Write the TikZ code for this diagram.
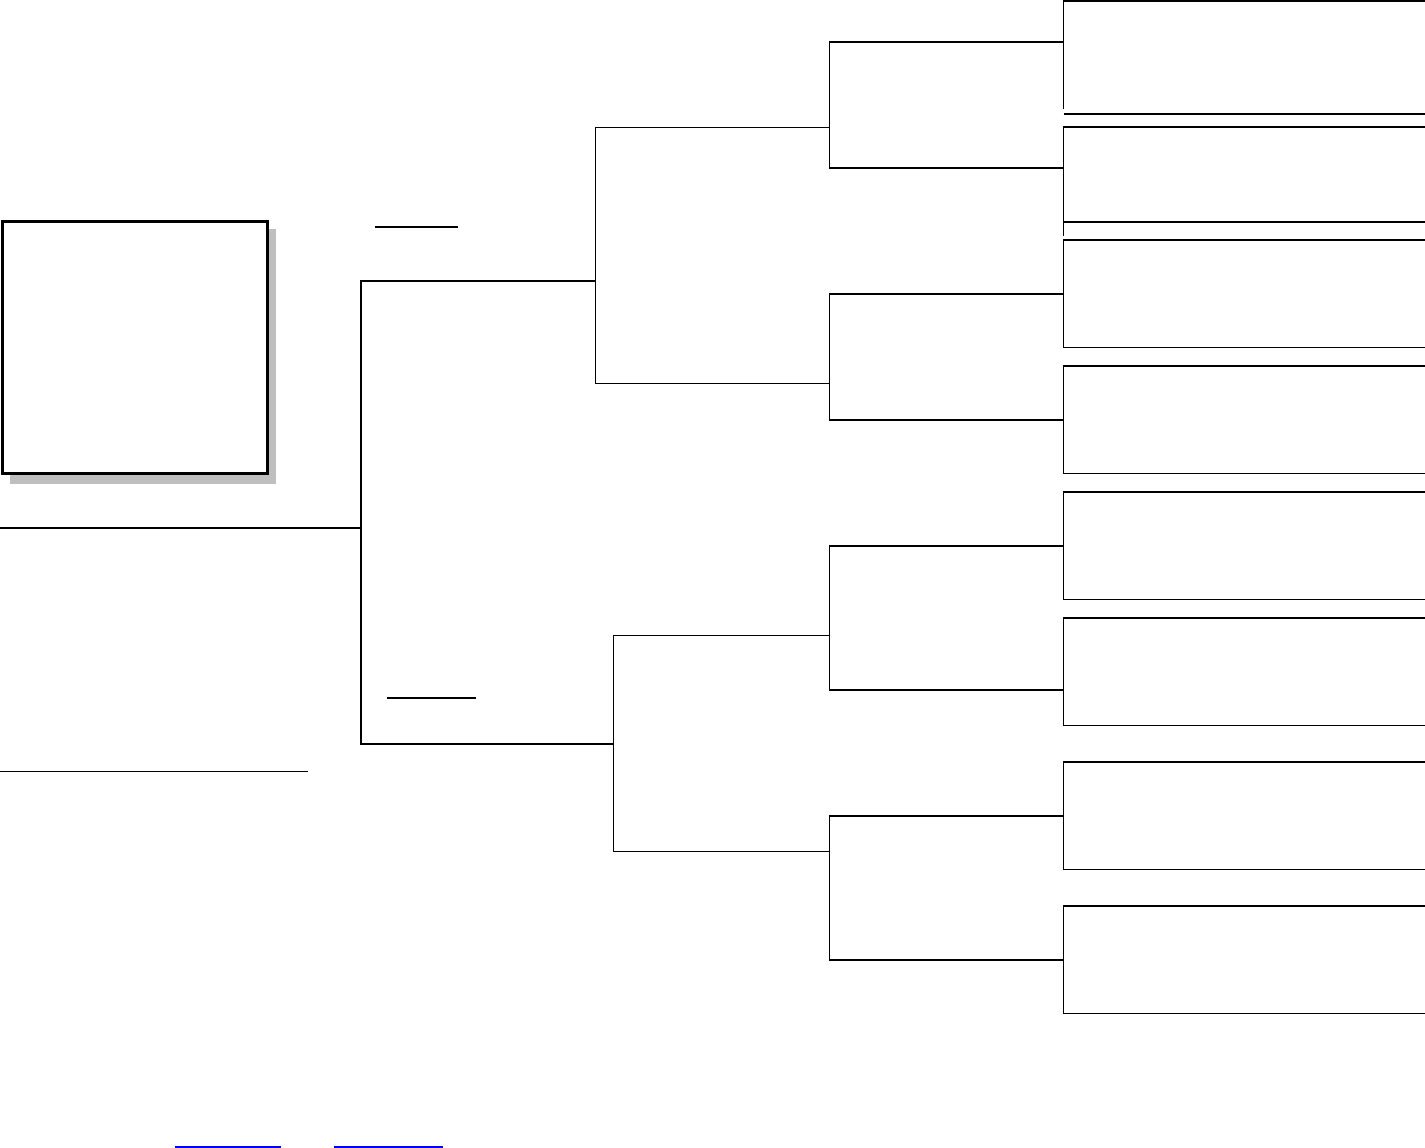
\documentclass[tikz,border=0pt]{standalone}
\begin{document}
\begin{tikzpicture}[x=1pt,y=-1pt,
  ln/.style={line width=1.4pt,line cap=rect},
  thin ln/.style={line width=1.1pt},
  boxln/.style={line width=1.8pt},
  photo/.style={line width=3pt,draw=black,fill=white},
  shadow/.style={fill=black!25,draw=none},
  link/.style={line width=2pt,draw={rgb,255:red,0;green,0;blue,255}}]
\useasboundingbox (0,0) rectangle (1425,1148);
% photo box with shadow
\fill[shadow] (10,229) rectangle (276,484);
\draw[photo] (2,221) rectangle (267,473);
% generation 1
\coordinate (g1a) at (0,528);
\coordinate (g1b) at (361,528);
\draw[ln] (g1a) -- (g1b);
\coordinate (g1t) at (361,281);
\coordinate (g1d) at (361,744);
\draw[ln] (g1t) -- (g1d);
% separate lines
\coordinate (s1a) at (0,771.5);
\coordinate (s1b) at (308,771.5);
\draw[thin ln] (s1a) -- (s1b);
\coordinate (u1a) at (376,227);
\coordinate (u1b) at (457,227);
\draw[ln] (u1a) -- (u1b);
\coordinate (u2a) at (388,698);
\coordinate (u2b) at (475,698);
\draw[ln] (u2a) -- (u2b);
% generation 2
\coordinate (g2u) at (595.5,281);
\coordinate (g2l) at (613.5,744);
\draw[ln] (g1t) -- (g2u);
\draw[ln] (g1d) -- (g2l);
\coordinate (g2ut) at (595.5,127.5);
\coordinate (g2ub) at (595.5,383.5);
\coordinate (g2lt) at (613.5,635.5);
\coordinate (g2lb) at (613.5,851.5);
\draw[ln] (g2ut) -- (g2ub);
\draw[ln] (g2lt) -- (g2lb);
% generation 3
\coordinate (aL) at (829.5,127.5);
\coordinate (bL) at (829.5,383.5);
\coordinate (cL) at (829.5,635.5);
\coordinate (dL) at (829.5,851.5);
\draw[ln] (g2ut) -- (aL);
\draw[ln] (g2ub) -- (bL);
\draw[ln] (g2lt) -- (cL);
\draw[ln] (g2lb) -- (dL);
\coordinate (at) at (829.5,42);   \coordinate (ab) at (829.5,168);
\coordinate (bt) at (829.5,294);  \coordinate (bb) at (829.5,420);
\coordinate (ct) at (829.5,546);  \coordinate (cb) at (829.5,690);
\coordinate (dt) at (829.5,816);  \coordinate (db) at (829.5,960);
\draw[ln] (at) -- (ab);
\draw[ln] (bt) -- (bb);
\draw[ln] (ct) -- (cb);
\draw[ln] (dt) -- (db);
% generation 4 connectors and boxes
\foreach \c/\y/\t/\b/\e in {at/42/1.3/113.7/109, ab/168/127/221.7/236,
  bt/294/240/347.5/347.5, bb/420/366/473.5/473.5,
  ct/546/492/599.5/599.5, cb/690/618/725.5/725.5,
  dt/816/762/869.5/869.5, db/960/906/1013.5/1013.5}{
  \coordinate (\c R) at (1063.5,\y);
  \draw[ln] (\c) -- (\c R);
  \draw[boxln] (1425,\t) -- (1063.5,\t) -- (1063.5,\e);
  \draw[boxln] (1063.5,\b) -- (1425,\b);
}
% blue links
\coordinate (l1a) at (175,1146.5); \coordinate (l1b) at (281,1146.5);
\coordinate (l2a) at (334,1146.5); \coordinate (l2b) at (443,1146.5);
\draw[link] (l1a) -- (l1b);
\draw[link] (l2a) -- (l2b);
\end{tikzpicture}
\end{document}
